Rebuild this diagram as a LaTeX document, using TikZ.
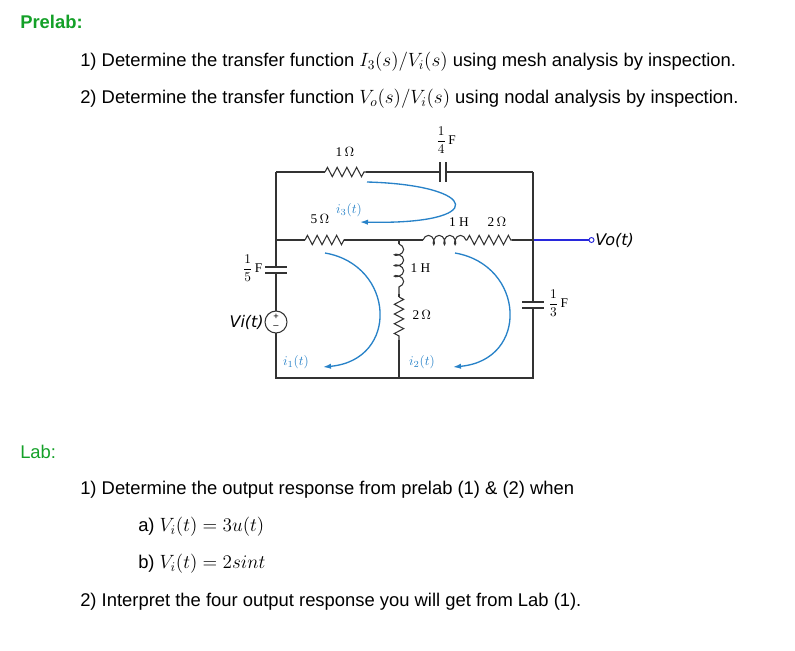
\documentclass[tikz,border=0pt]{standalone}
\usepackage{fontspec}
\usepackage{amsmath}
\setmainfont{Liberation Sans}
\newfontfamily\serifc{Liberation Serif}
\newfontfamily\vfont{DejaVu Sans}
\usetikzlibrary{decorations.pathmorphing,arrows.meta}
\definecolor{grn}{RGB}{20,160,40}
\definecolor{arr}{RGB}{40,130,200}
\definecolor{vblue}{RGB}{40,40,220}
\begin{document}
\begin{tikzpicture}[x=0.75pt,y=-0.75pt,
  wire/.style={line width=0.8pt,black!80},
  res/.style={wire,decorate,decoration={zigzag,segment length=7.3pt,amplitude=3.5pt}},
  ind/.style={wire,decorate,decoration={coil,aspect=0.6,segment length=8pt,amplitude=3.5pt}},
  cl/.style={font=\serifc\fontsize{10}{11}\selectfont,inner sep=1pt},
  txt/.style={anchor=west,font=\fontsize{13.8}{16}\selectfont,inner sep=0pt},
  loop/.style={arr,line width=1pt,-{Latex[length=6pt,width=4pt]}}]
\useasboundingbox (0,0) rectangle (795,650);
% texts
\node[txt,text=grn,font=\bfseries\fontsize{13.8}{16}\selectfont] (p) at (20,22) {Prelab:};
\node[txt] (t1) at (80,62) {1) Determine the transfer function $I_3(s)/V_i(s)$ using mesh analysis by inspection.};
\node[txt] (t2) at (80,99) {2) Determine the transfer function $V_o(s)/V_i(s)$ using nodal analysis by inspection.};
\node[txt,text=grn] (l) at (20,452) {Lab:};
\node[txt] (t3) at (80,490) {1) Determine the output response from prelab (1) \& (2) when};
\node[txt] (t4) at (138,527) {a) $V_i(t)=3u(t)$};
\node[txt] (t5) at (138,564) {b) $V_i(t)=2sint$};
\node[txt] (t6) at (80,602) {2) Interpret the four output response you will get from Lab (1).};
% coordinates
\coordinate (TL) at (276,172); \coordinate (TR) at (533,172);
\coordinate (ML) at (276,240); \coordinate (MM) at (399,240); \coordinate (MR) at (533,240);
\coordinate (BL) at (276,378); \coordinate (BM) at (399,378); \coordinate (BR) at (533,378);
% top branch
\draw[wire] (TL) -- (325,172);
\draw[res] (325,172) -- (366,172);
\draw[wire] (366,172) -- (440,172) (446,172) -- (TR);
\draw[wire] (440,162) -- (440,182) (446,162) -- (446,182);
% middle
\draw[wire] (ML) -- (305,240);
\draw[res] (305,240) -- (344,240);
\draw[wire] (344,240) -- (MM) -- (423,240);
\draw[ind] (423,240) -- (467,240);
\draw[res] (467,240) -- (512,240);
\draw[wire] (512,240) -- (MR);
\draw[vblue,line width=0.8pt] (MR) -- (589,240);
\draw[vblue,line width=0.7pt,fill=white] (591.5,240) circle (2.5);
\node[anchor=west,font=\vfont\itshape\fontsize{12}{13}\selectfont,inner sep=0pt] (vo) at (595,240) {Vo(t)};
% left column
\draw[wire] (TL) -- (ML) -- (276,267) (276,273) -- (276,311) (276,333) -- (BL) -- (BR) -- (533,308) (533,302) -- (TR) -- (MR);
\draw[wire] (265,267) -- (287,267) (265,273) -- (287,273);
\draw[wire] (522,302) -- (544,302) (522,308) -- (544,308);
\draw[wire] (276,322) circle (11);
\node[font=\fontsize{7}{7}\selectfont,inner sep=0] at (276,317) {+};
\node[font=\fontsize{7}{7}\selectfont,inner sep=0] at (276,327) {--};
\node[anchor=east,font=\vfont\itshape\fontsize{12}{13}\selectfont,inner sep=0pt] (vi) at (264,322) {Vi(t)};
% middle column
\draw[wire] (MM) -- (399,244);
\draw[ind] (399,244) -- (399,294);
\draw[res] (399,297) -- (399,340);
\draw[wire] (399,294) -- (399,297) (399,340) -- (BM);
% labels
\node[cl] at (345,152) {1\,$\Omega$};
\node[cl] at (446,140) {$\dfrac{1}{4}$\,F};
\node[cl] at (320,219) {5\,$\Omega$};
\node[cl] at (459,222) {1 H};
\node[cl] at (497,222) {2\,$\Omega$};
\node[cl,anchor=west] at (409,268) {1 H};
\node[cl,anchor=west] at (411,315) {2\,$\Omega$};
\node[cl,anchor=east] at (264,268) {$\dfrac{1}{5}$\,F};
\node[cl,anchor=west] at (547,303) {$\dfrac{1}{3}$\,F};
\node[cl,text=arr] at (349,210) {$i_3(t)$};
\node[cl,text=arr] at (296,362) {$i_1(t)$};
\node[cl,text=arr] at (422,362) {$i_2(t)$};
% loops
\draw[loop] (367,182) .. controls (480,185) and (490,225) .. (360,222);
\draw[loop] (325,253) .. controls (395,265) and (400,360) .. (323,367);
\draw[loop] (455,253) .. controls (525,265) and (530,360) .. (453,367);
\end{tikzpicture}
\end{document}
